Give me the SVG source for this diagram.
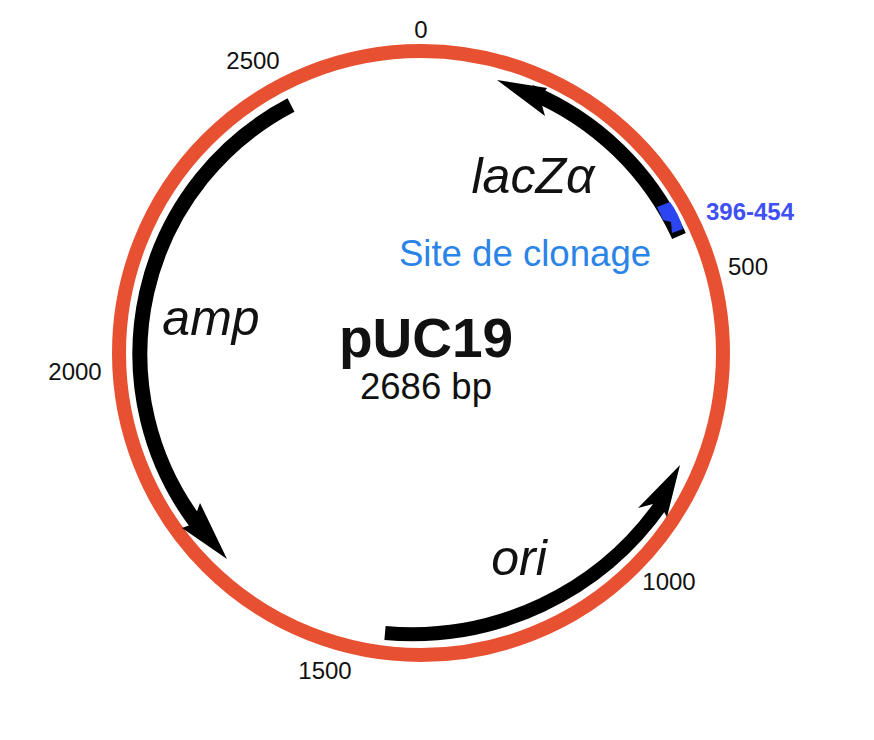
<svg xmlns="http://www.w3.org/2000/svg" width="874" height="740" viewBox="0 0 874 740">
<style>
text{font-family:"Liberation Sans",Arial,sans-serif;fill:#111}
.tick{font-size:24px;text-anchor:middle}
.gene{font-size:50px;font-style:italic;text-anchor:middle}
.arc{fill:none;stroke:#000;stroke-width:15}
</style>
<rect width="874" height="740" fill="#fff"/>
<g id="connectors">
<circle id="backbone" cx="421" cy="353" r="302" fill="none" stroke="#e85032" stroke-width="14"/>
</g>
<g id="amp">
<path class="arc" d="M291 105A281 281 0 0 0 197 524"/>
<polygon points="227,559 182,528 190,525 196,514 200,503"/>
<text class="gene" x="211" y="335">amp</text>
</g>
<g id="ori">
<path class="arc" style="stroke-width:14" d="M385 633A305 305 0 0 0 663 502"/>
<polygon points="680,465 638,508 653,504 663,510 667,517"/>
<text class="gene" x="519" y="575">ori</text>
</g>
<g id="lacZ">
<path class="arc" d="M679 236A284 284 0 0 0 530 92"/>
<polygon points="497,80 547,88 540,98 545,116"/>
<text class="gene" x="533" y="193">lacZα</text>
</g>
<g id="cloning-site">
<path d="M657 207L670 202Q679 214 683 229L672 233L671 222L663 220Z" fill="#2b45f0"/>
<text x="750" y="220" font-size="24" font-weight="bold" text-anchor="middle" style="fill:#3f51f5">396-454</text>
<text x="525" y="266" font-size="36.6" text-anchor="middle" style="fill:#2a84e8">Site de clonage</text>
</g>
<g id="center">
<text x="426" y="357" font-size="55" font-weight="bold" text-anchor="middle">pUC19</text>
<text x="426" y="399" font-size="36.5" text-anchor="middle">2686 bp</text>
</g>
<g id="ticks">
<text class="tick" x="421" y="38">0</text>
<text class="tick" x="748" y="275">500</text>
<text class="tick" x="669" y="590">1000</text>
<text class="tick" x="325" y="679">1500</text>
<text class="tick" x="75" y="380">2000</text>
<text class="tick" x="253" y="69">2500</text>
</g>
</svg>
